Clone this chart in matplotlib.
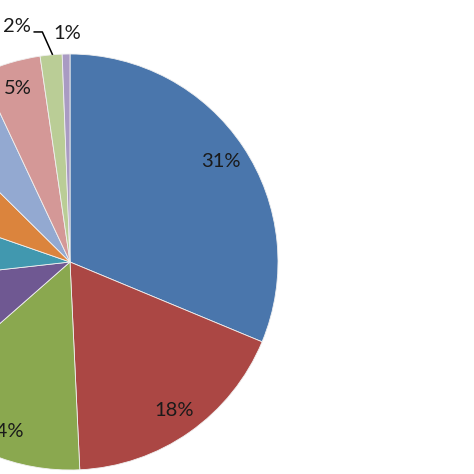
import matplotlib.pyplot as plt

# slice shares (percent), clockwise from 12 o'clock
shares = [31.3, 18.0, 14.3, 9.7, 7.1, 7.1, 5.6, 4.7, 1.7, 0.6]
colors = ['#4A76AC', '#AB4744', '#8AA84F', '#6F5892', '#4198AF',
          '#DB843D', '#93A9D1', '#D49897', '#BACD96', '#A99BC3']

plt.rcParams['font.family'] = ['Lato', 'DejaVu Sans']

fig = plt.figure(figsize=(4.74, 4.74), dpi=100)
ax = fig.add_axes([0, 0, 1, 1])

def fmt(p):
    # small slices get their labels placed outside
    return '%d%%' % round(p) if p >= 3 else ''

wedges, texts, autotexts = ax.pie(shares, colors=colors, startangle=90,
                                  counterclock=False, radius=1.0,
                                  autopct=fmt, pctdistance=0.87,
                                  wedgeprops=dict(edgecolor='#f0f0f0', linewidth=0.6),
                                  textprops=dict(fontsize=14.5, color='#1a1a1a'))
# green label sits a little further right in the original
autotexts[2].set_position((-0.315, -0.817))

# outside labels for the two thin slices
ax.text(-0.255, 1.13, '2%', ha='center', va='center', fontsize=14.5, color='#1a1a1a')
ax.text(-0.015, 1.10, '1%', ha='center', va='center', fontsize=14.5, color='#1a1a1a')
ax.plot([-0.172, -0.133, -0.085], [1.106, 1.106, 0.999], color='black', lw=1.1)

# pie centre sits near the left edge of the picture
ax.set_xlim(-70 / 208, (474 - 70) / 208)
ax.set_ylim(-(474 - 262) / 208, 262 / 208)
ax.set_aspect('auto')
ax.axis('off')

fig.savefig('out.png', dpi=100)
